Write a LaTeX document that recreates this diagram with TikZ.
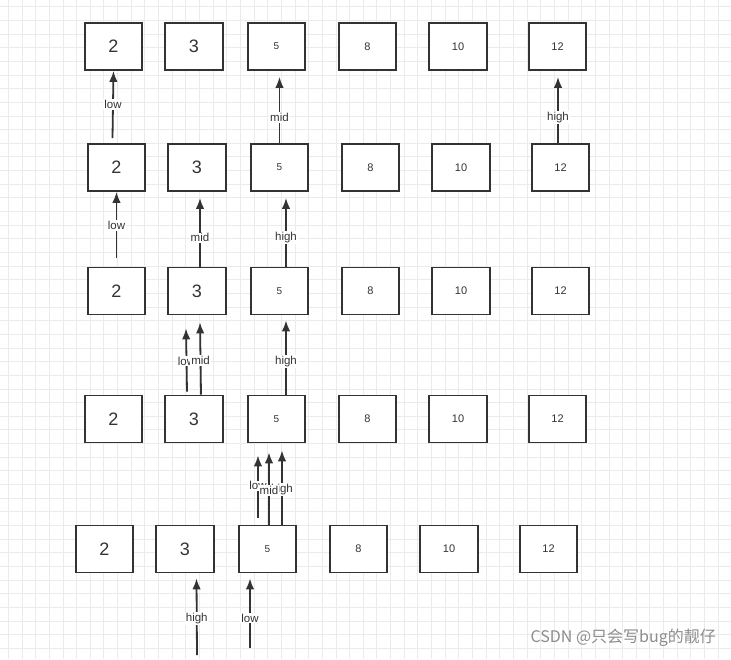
\documentclass[tikz,border=0pt]{standalone}
\usepackage{fontspec}
\setmainfont{Liberation Sans}
\newfontfamily\cjk{Noto Sans CJK SC}
\usetikzlibrary{arrows.meta}
\definecolor{ink}{HTML}{333333}
\definecolor{gridline}{HTML}{EBEBEB}
\definecolor{wmark}{HTML}{8C8C8C}

\begin{document}
\begin{tikzpicture}[x=1pt, y=-1pt,
    cell/.style={draw=ink, line width=1.8pt, fill=white, minimum width=57.5pt, minimum height=47pt, inner sep=0pt, text=ink},
    ptr/.style={draw=ink, line width=1.8pt, -{Latex[length=11pt,width=8.5pt]}},
    tag/.style={fill=white, inner sep=1pt, text=ink, font=\fontsize{11.5}{12}\selectfont}]
    \useasboundingbox (0,0) rectangle (731,659);
    \fill[white] (0,0) rectangle (731,659);
    \foreach \g in {0,...,53} {
        \draw[gridline, line width=0.8pt] (8.3+13.65*\g,0) -- (8.3+13.65*\g,659);
        \draw[gridline, line width=0.8pt] (0,6.7+13.65*\g) -- (731,6.7+13.65*\g);
    }

    \foreach \r/\y/\dx in {1/46.5/0, 2/167.5/3, 3/291/3, 4/419/0, 5/549/-9}
        \foreach \c/\x/\v/\s in {1/113.5/2/18, 2/194/3/18, 3/276.5/5/10, 4/367.5/8/11, 5/458/10/11, 6/557.5/12/11}
            \node[cell, xshift=\dx pt, font=\fontsize{\s}{\s}\selectfont] (n\r\c) at (\x,\y) {\v};

    \draw[ptr] ([xshift=-4pt,yshift=5pt]n21.north) -- (n11.south) node[tag, pos=0.5] {low};
    \draw[ptr] (n23.north) -- ([xshift=3pt,yshift=-6pt]n13.south) node[tag, pos=0.39] {mid};
    \draw[ptr] ([xshift=-2.5pt]n26.north) -- ([xshift=0.5pt,yshift=-6pt]n16.south) node[tag, pos=0.39] {high};

    \draw[ptr] ([yshift=9pt]n31.north) -- (n21.south) node[tag, pos=0.49] {low};
    \draw[ptr] ([xshift=3pt]n32.north) -- ([xshift=3pt,yshift=-6pt]n22.south) node[tag, pos=0.42] {mid};
    \draw[ptr] ([xshift=6.5pt]n33.north) -- ([xshift=6.5pt,yshift=-6pt]n23.south) node[tag, pos=0.42] {high};

    \draw[ptr] ([xshift=-7pt,yshift=3pt]n42.north) -- ([xshift=-11pt,yshift=-13pt]n32.south) node[tag, pos=0.48] {low};
    \draw[ptr] ([xshift=7pt]n42.north) -- ([xshift=3pt,yshift=-7pt]n32.south) node[tag, pos=0.47] {mid};
    \draw[ptr] ([xshift=9.5pt]n43.north) -- ([xshift=6.5pt,yshift=-5pt]n33.south) node[tag, pos=0.45] {high};

    \draw[ptr] ([xshift=-9.5pt,yshift=7pt]n53.north) -- ([xshift=-18.5pt,yshift=-12pt]n43.south) node[tag, pos=0.51] {low};
    \draw[ptr] ([xshift=14.5pt]n53.north) -- ([xshift=5.5pt,yshift=-7pt]n43.south) node[tag, pos=0.47] {high};
    \draw[ptr] ([xshift=1.5pt]n53.north) -- ([xshift=-7.5pt,yshift=-9pt]n43.south) node[tag, pos=0.47] {mid};

    \coordinate (hb) at (197,655);
    \coordinate (lb) at (250,648);
    \draw[ptr] (hb) -- ([xshift=11.5pt,yshift=-5pt]n52.south) node[tag, pos=0.48] {high};
    \draw[ptr] (lb) -- ([xshift=-17.5pt,yshift=-5pt]n53.south) node[tag, pos=0.43] {low};

    \node[anchor=east, text=wmark, font=\cjk\fontsize{16}{16}\selectfont, inner sep=0pt] (wm) at (716,638) {CSDN @只会写bug的靓仔};
\end{tikzpicture}
\end{document}
